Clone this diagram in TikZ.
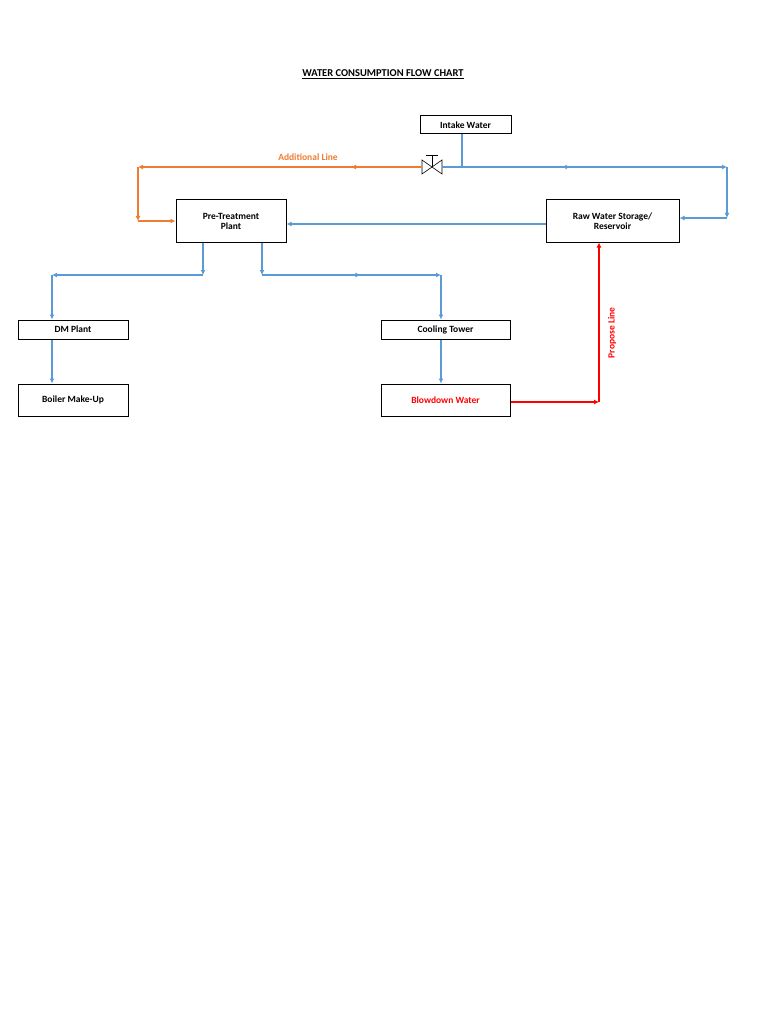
\documentclass[tikz,border=0pt]{standalone}
\usepackage{fontspec}
\setmainfont{Carlito}
\usetikzlibrary{arrows.meta,decorations.markings}
\definecolor{bl}{HTML}{5B9BD5}
\definecolor{og}{HTML}{ED7D31}
\definecolor{rd}{HTML}{FF0000}
\begin{document}
\begin{tikzpicture}[x=1pt,y=-1pt,
 box/.style={draw,line width=1pt,font=\bfseries\fontsize{9.5}{10}\selectfont,align=center,inner sep=0pt},
 fl/.style={line width=2pt,-{Latex[length=5pt,width=5pt]}},
 mid/.style={postaction={decorate},decoration={markings,mark=at position #1 with {\arrow{Latex[length=5pt,width=5pt]}}}}]
\useasboundingbox (0,0) rectangle (768,1024);
\node[font=\bfseries\fontsize{10.5}{12}\selectfont] (t) at (383,74) {\underline{WATER CONSUMPTION FLOW CHART}};
\node[box,minimum width=91pt,minimum height=18pt] (iw) at (465.5,125) {Intake Water};
\node[box,minimum width=110pt,minimum height=42pt] (pt) at (231,221) {Pre-Treatment\\Plant};
\node[box,minimum width=133pt,minimum height=42pt] (rw) at (612.5,221) {Raw Water Storage/\\Reservoir};
\node[box,minimum width=110pt,minimum height=19pt] (dm) at (73,329.5) {DM Plant};
\node[box,minimum width=110pt,minimum height=32pt] (bm) at (73,400) {Boiler Make-Up};
\node[box,minimum width=129pt,minimum height=19pt] (ct) at (445.5,329.5) {Cooling Tower};
\node[box,minimum width=129pt,minimum height=32pt,text=rd] (bd) at (445.5,400) {Blowdown Water};
% valve
\coordinate (vl) at (422,167); \coordinate (vr) at (442,167); \coordinate (vc) at (432,167);
\draw[line width=0.6pt] (422,160) -- (442,174) -- (442,160) -- (422,174) -- cycle;
\draw[line width=0.6pt] (vc) -- (432,155) (426,155) -- (438,155);
\coordinate (j) at (462,167);
\coordinate (c1) at (727,167); \coordinate (c2) at (727,218);
\coordinate (o1) at (138,167); \coordinate (o2) at (138,221);
\coordinate (a1) at (203,275); \coordinate (a2) at (52,275);
\coordinate (b1) at (262,275); \coordinate (b2) at (441,275);
\coordinate (r1) at (599,402);
\begin{scope}[bl]
\draw[line width=2pt] (iw.south -| j) -- (j);
\draw[fl,mid=0.45] (vr) -- (c1);
\draw[fl] (c1) -- (c2);
\draw[fl] (c2) -- (rw.east |- c2);
\draw[fl] (rw.west |- 0,224) -- (pt.east |- 0,224);
\draw[fl] (pt.south -| a1) -- (a1);
\draw[fl] (a1) -- (a2);
\draw[fl] (a2) -- (dm.north -| a2);
\draw[fl] (pt.south -| b1) -- (b1);
\draw[fl,mid=0.55] (b1) -- (b2);
\draw[fl] (b2) -- (ct.north -| b2);
\draw[fl] (dm.south -| a2) -- (bm.north -| a2);
\draw[fl] (ct.south -| b2) -- (bd.north -| b2);
\end{scope}
\begin{scope}[og]
\draw[fl,mid=0.25] (vl) -- (o1);
\draw[fl] (o1) -- (o2);
\draw[fl] (o2) -- (pt.west |- o2);
\node[font=\bfseries\fontsize{9.5}{10}\selectfont] (al) at (308,157) {Additional Line};
\end{scope}
\begin{scope}[rd]
\draw[fl] (bd.east |- r1) -- (r1);
\draw[fl] (r1) -- (rw.south -| r1);
\node[font=\bfseries\fontsize{9.5}{10}\selectfont,rotate=90] (pl) at (612,333) {Propose Line};
\end{scope}
\end{tikzpicture}
\end{document}
